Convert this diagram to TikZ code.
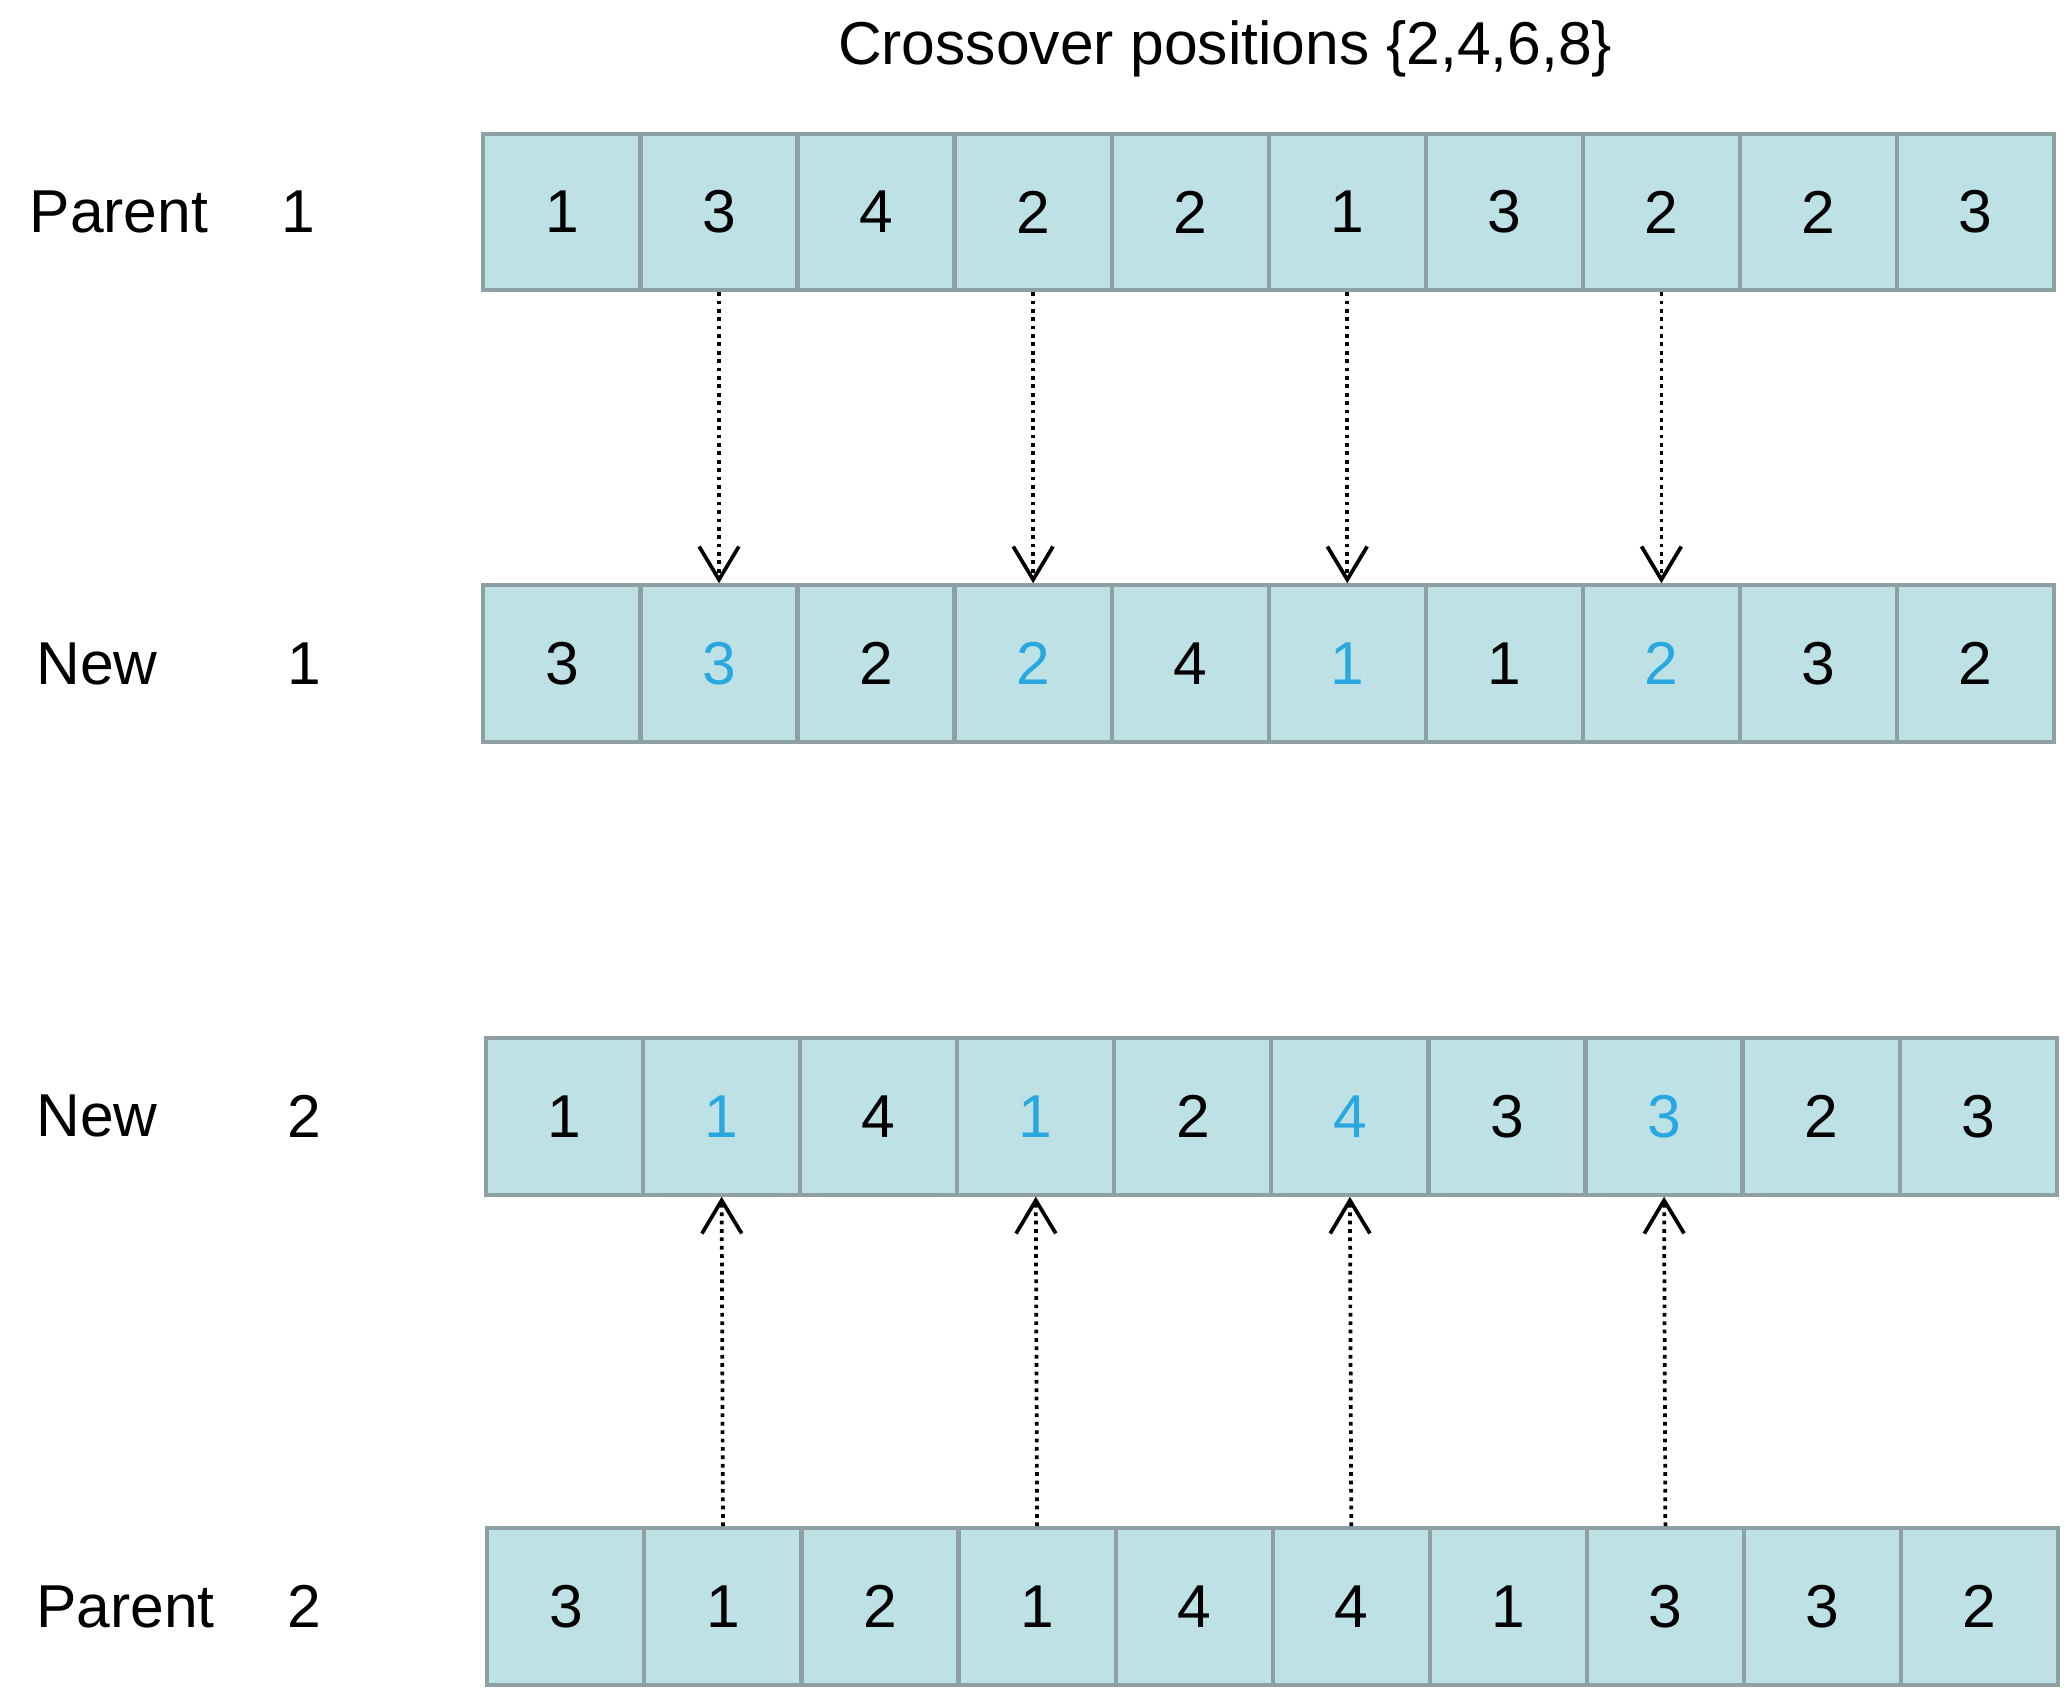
\documentclass[tikz,border=0pt]{standalone}
\usepackage{fontspec}
\setmainfont{Liberation Sans}
\usetikzlibrary{arrows.meta}
\definecolor{cellfill}{HTML}{BDE1E5}
\definecolor{cellline}{HTML}{8FA0A5}
\definecolor{swapblue}{HTML}{29A8E0}
\tikzset{
    cell/.style={draw=cellline, fill=cellfill, line width=0.9pt, minimum width=1.186cm, minimum height=1.18cm, inner sep=0pt, font=\fontsize{13}{15}\selectfont},
    rowlabel/.style={anchor=west, font=\fontsize{13}{15}\selectfont},
    crossarrow/.style={densely dotted, line width=0.8pt, -{Straight Barb[length=2.5mm, width=3mm]}}
}
\begin{document}
\begin{tikzpicture}[x=0.01cm, y=-0.01cm]
    \useasboundingbox (0,0) rectangle (1560,1281);

    % Title
    \node[font=\fontsize{13}{15}\selectfont] (title) at (925,37) {Crossover positions \{2,4,6,8\}};

    % Row labels
    \node[rowlabel] (lp1) at (10,160) {Parent};
    \node[rowlabel] (lp1n) at (200,160) {1};
    \node[rowlabel] (ln1) at (15,501) {New};
    \node[rowlabel] (ln1n) at (205,501) {1};
    \node[rowlabel] (ln2) at (15,843) {New};
    \node[rowlabel] (ln2n) at (205,843) {2};
    \node[rowlabel] (lp2) at (15,1213) {Parent};
    \node[rowlabel] (lp2n) at (205,1213) {2};

    % Parent 1
    \foreach \v [count=\i] in {1,3,4,2,2,1,3,2,2,3}
        \node[cell] (p1-\i) at ({365+118.6*(\i-0.5)},160) {\v};
    % New 1
    \foreach \v/\c [count=\i] in {3/black,3/swapblue,2/black,2/swapblue,4/black,1/swapblue,1/black,2/swapblue,3/black,2/black}
        \node[cell, text=\c] (n1-\i) at ({365+118.6*(\i-0.5)},501) {\v};
    % New 2
    \foreach \v/\c [count=\i] in {1/black,1/swapblue,4/black,1/swapblue,2/black,4/swapblue,3/black,3/swapblue,2/black,3/black}
        \node[cell, text=\c] (n2-\i) at ({367+118.6*(\i-0.5)},843) {\v};
    % Parent 2
    \foreach \v [count=\i] in {3,1,2,1,4,4,1,3,3,2}
        \node[cell] (p2-\i) at ({368+118.6*(\i-0.5)},1213) {\v};

    % Crossover arrows
    \foreach \i in {2,4,6,8} {
        \draw[crossarrow] (p1-\i.south) -- (n1-\i.north);
        \draw[crossarrow] (p2-\i.north) -- (n2-\i.south);
    }
\end{tikzpicture}
\end{document}
